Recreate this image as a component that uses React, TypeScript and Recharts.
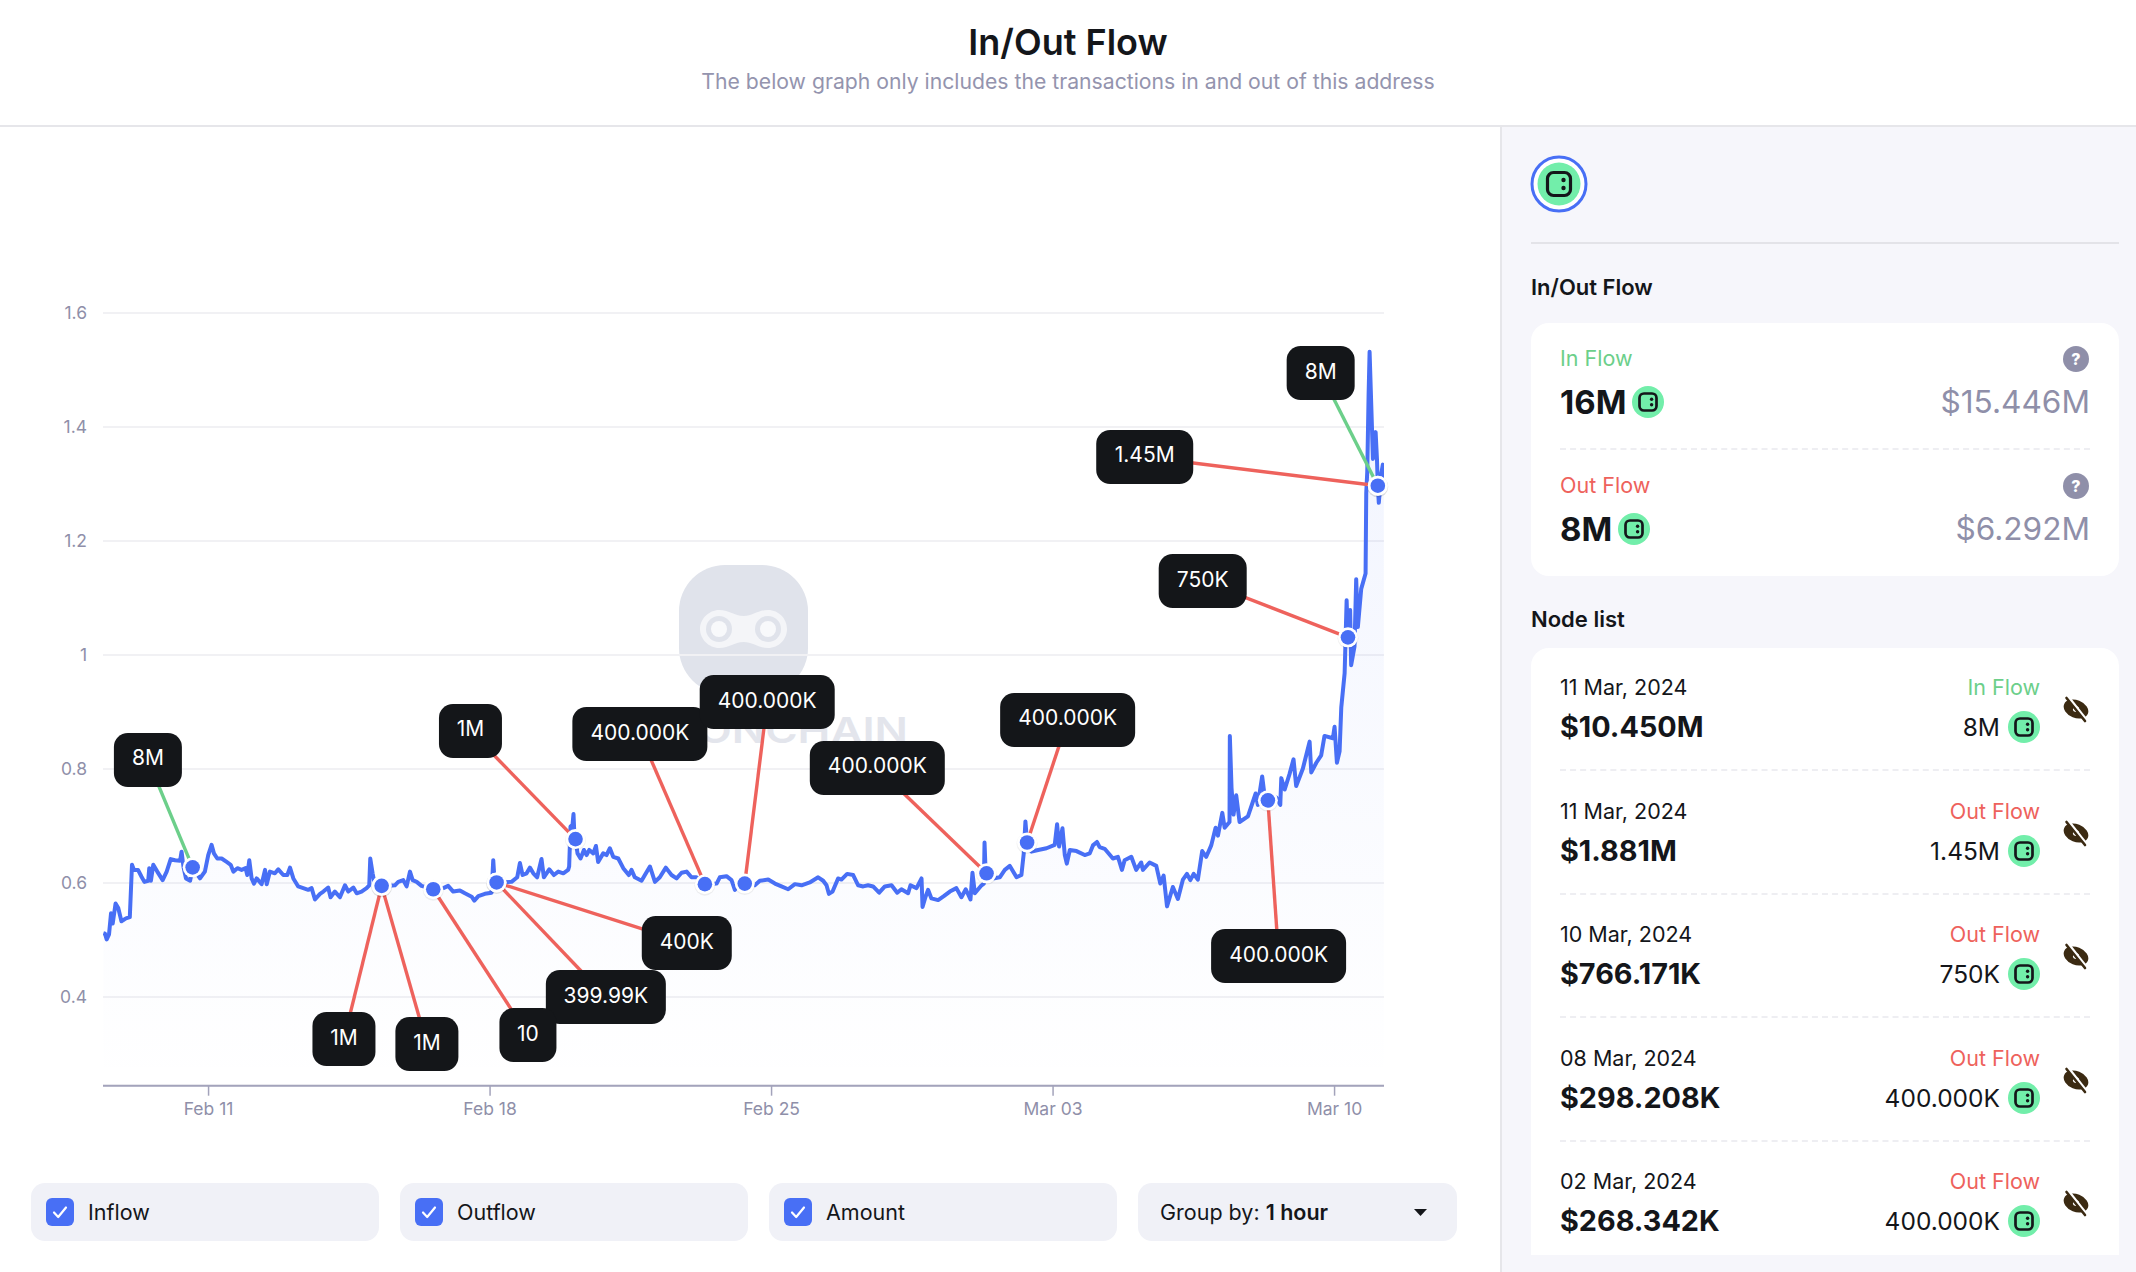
import React from "react";
import { ComposedChart, Area, XAxis, YAxis, CartesianGrid, ReferenceLine, ReferenceDot } from "recharts";

// ---------- data ----------
const hourTime = [9.2,10.2,11.2,12.6,13.8,14.8,16.5,18.1,20,22.7,25,26.3,27.5,29.9,32,33.7,36,36.6,37.6,39,41.4,44.6,47,49.4,52,55,55.9,57,58.5,61,62.5,66.9,69.8,71.8,73.8,75.2,77.2,79.8,82.8,85.2,86.8,89.2,91.7,94.1,95.1,96.3,97.7,99.1,100.7,103.7,105.7,106.7,108.6,111.6,113.6,116.6,119,120.6,122.6,125.5,128.5,131.5,133.5,135.5,138.5,140.5,143.4,144.8,147.4,150.4,153.4,155.4,158.4,160.4,163.3,166.3,167.9,168.5,169.9,171.3,175.3,180.2,183.2,185.2,188.2,190.2,192.2,193.8,196.2,199.1,206.1,
  212.1,215,218,222,225,229,230.6,233,236.9,240.9,241.9,242.9,243.9,252.8,256.2,257.8,259.4,261.8,263.8,265.8,268.1,270.7,272.1,275.3,278.1,280.7,283.7,286.6,287.2,288,289.2,289.8,290.2,291,292.2,294,296,297.6,299.2,301.6,303.2,304.5,307.5,309.5,311.5,313.5,316.5,319.5,322.8,324.4,326.4,330.4,332.4,335.4,338.4,341.3,344.9,348.3,351.3,354.3,357.3,360.2,363.2,368.2,375.2,377.1,381.1,384.1,386.1,388.1,392,398,
  401,406,410,413.9,417.9,421.9,425.9,430.8,435.8,438.8,440.8,442.2,444.4,447.7,449.7,453.1,456.7,459.7,462.7,465.6,468.6,472.2,475.6,479.6,483,485.5,489.5,490.9,494.5,497.5,498.1,499.9,501.4,503.4,507.4,510.8,514.4,518.3,521.3,523.9,526.7,527.9,529.3,533.3,534.7,535.1,535.7,537.2,540.2,544.2,547.2,550.2,554.2,557.1,558.5,559.5,560.5,563.1,567.1,572.1,577,578.4,579.6,581.6,583,584.2,586,590,594.9,597.9,
  599.8,602.2,603.8,606.8,609.7,611.7,614.7,617.1,618.7,622.7,625.6,628.6,629.6,633.6,637.6,640,642,644,647.5,650.5,653.5,655.9,657.9,659.9,662.4,665,667.4,670.4,673,674.4,677,678.4,681.3,681.5,682.5,683.7,685.3,687.3,692.3,696.9,698.2,700.8,702.2,704.2,709.2,711.6,712.2,714.2,717.1,719.5,721.1,725.1,729.1,730.1,733.1,736,738,743,744,745.4,747,748,750,751.2,751.9,752.3,753.3,753.9,755.9,756.9,757.9,759.9,762.5,762.9,763.5,764.3,764.9,765.9,766.9,768.5,769.3,769.8,770.4,771.8,772.8,773.4];

const rateValue = [.512,.511,.501,.510,.547,.529,.564,.556,.533,.538,.540,.632,.623,.623,.611,.602,.604,.626,.604,.632,.620,.605,.620,.642,.640,.639,.655,.629,.608,.604,.6275,.608,.620,.649,.667,.652,.643,.643,.637,.632,.620,.626,.623,.626,.614,.640,.608,.599,.608,.598,.623,.598,.620,.617,.624,.614,.614,.627,.608,.594,.591,.588,.591,.571,.581,.585,.592,.575,.585,.575,.596,.585,.592,.582,.585,.591,.596,.643,.617,.596,.595,.595,.596,.602,.605,.594,.620,.605,.602,.595,.589,
  .591,.595,.585,.587,.582,.576,.569,.577,.581,.583,.640,.594,.601,.602,.610,.635,.614,.617,.627,.617,.610,.642,.610,.624,.614,.620,.617,.623,.629,.699,.702,.721,.693,.677,.652,.643,.658,.649,.658,.652,.665,.637,.652,.649,.661,.646,.643,.626,.614,.623,.610,.604,.614,.629,.602,.610,.627,.614,.608,.618,.620,.610,.610,.598,.599,.610,.612,.605,.588,.596,.599,.596,
  .604,.606,.599,.594,.589,.598,.596,.601,.610,.604,.596,.581,.585,.608,.606,.616,.614,.596,.594,.596,.594,.583,.594,.596,.583,.589,.582,.596,.591,.608,.558,.576,.588,.573,.570,.577,.585,.591,.575,.589,.571,.618,.582,.596,.599,.671,.623,.617,.608,.610,.623,.630,.610,.614,.652,.708,.671,.655,.658,.661,.667,.703,.664,.696,.649,.634,.658,.656,.649,.652,
  .666,.672,.663,.660,.650,.643,.646,.623,.640,.646,.623,.636,.623,.636,.630,.599,.613,.559,.593,.572,.606,.616,.605,.616,.606,.656,.646,.666,.697,.683,.723,.697,.707,.858,.767,.720,.754,.707,.717,.757,.737,.787,.754,.745,.750,.737,.784,.764,.791,.817,.770,.801,.848,.794,.811,.824,.858,.854,.874,.811,.831,.908,.968,1.096,1.029,1.031,1.079,.982,1.015,1.133,1.049,1.116,1.143,1.284,1.321,1.455,1.532,1.438,1.344,1.391,1.344,1.297,1.267,1.317,1.334,1.310];

const xTickHours = [72, 240, 408, 576, 744];
const xTickLabels = ["Feb 11", "Feb 18", "Feb 25", "Mar 03", "Mar 10"];
const yTicks = [0.4, 0.6, 0.8, 1, 1.2, 1.4, 1.6];

const nodeHours = [62.5, 175.3, 175.3, 206.1, 243.9, 243.9, 291, 368.2, 392, 536.3, 560.5, 704.2, 752, 769.8, 769.8];
const nodeValues = [.6275, .595, .595, .589, .601, .601, .677, .598, .599, .617, .671, .745, 1.031, 1.297, 1.297];
const nodeAmounts = ["8M", "1M", "1M", "10", "399.99K", "400K", "1M", "400.000K", "400.000K", "400.000K", "400.000K", "400.000K", "750K", "1.45M", "8M"];
const nodeFlows = ["in", "out", "out", "out", "out", "out", "out", "out", "out", "out", "out", "out", "out", "out", "in"];
// where each tag sits, in the chart's own hour / value units
const tagHours = [35.8, 152.8, 202.3, 262.6, 309.1, 357.4, 228.3, 329.4, 405.4, 471.1, 584.7, 710.6, 665.3, 630.7, 735.7];
const tagValues = [.8158, .3263, .3175, .3333, .4, .4947, .8667, .8614, .9175, .8018, .886, .4719, 1.1298, 1.3474, 1.4947];

const listDates = ["11 Mar, 2024", "11 Mar, 2024", "10 Mar, 2024", "08 Mar, 2024", "02 Mar, 2024"];
const listUsd = ["$10.450M", "$1.881M", "$766.171K", "$298.208K", "$268.342K"];
const listFlows = ["In Flow", "Out Flow", "Out Flow", "Out Flow", "Out Flow"];
const listAmounts = ["8M", "1.45M", "750K", "400.000K", "400.000K"];
const legendNames = ["Inflow", "Outflow", "Amount"];

// ---------- styling ----------
const FONT = "Inter, 'Noto Sans', sans-serif";
const BLUE = "#486ff5";
const RED = "#ee625c";
const GREEN = "#6ccf8a";
const MUTED = "#8f8fa9";
const INK = "#14161a";

const chartData = hourTime.map((hour, i) => ({ hour, rate: rateValue[i] }));
const tagOrder = [0, 1, 2, 4, 3, 5, 6, 7, 8, 9, 10, 11, 12, 13, 14];

function tagWidth(text: string) {
  if (text.length >= 8) return 135;
  if (text === "399.99K") return 120;
  if (text === "1.45M") return 97;
  if (text === "400K") return 90;
  if (text === "750K") return 88;
  if (text === "8M") return 68;
  if (text === "10") return 57;
  return 63;
}

const NodeDot = (props: any) => (
  <g>
    <circle cx={props.cx} cy={props.cy + 1} r={10.5} fill="#000" opacity={0.06} />
    <circle cx={props.cx} cy={props.cy} r={10} fill="#fff" />
    <circle cx={props.cx} cy={props.cy} r={7.3} fill={BLUE} />
  </g>
);

const Tag = (text: string) => (props: any) => {
  const w = tagWidth(text);
  return (
    <g>
      <rect x={props.cx - w / 2} y={props.cy - 27} width={w} height={54} rx={14} fill="#141619" />
      <text x={props.cx} y={props.cy - 2} textAnchor="middle" dominantBaseline="central" fill="#fff" fontSize={21} fontFamily={FONT}>{text}</text>
    </g>
  );
};

const Coin = ({ x, y, d = 32 }: { x: number; y: number; d?: number }) => (
  <svg style={{ position: "absolute", left: x - d / 2, top: y - d / 2 }} width={d} height={d} viewBox="0 0 32 32">
    <circle cx={16} cy={16} r={16} fill="#72eeaa" />
    <rect x={7.5} y={7.5} width={17} height={17} rx={4.5} fill="none" stroke="#14161a" strokeWidth={2.7} />
    <circle cx={19.6} cy={13.2} r={1.7} fill="#14161a" />
    <circle cx={19.6} cy={18.8} r={1.7} fill="#14161a" />
  </svg>
);

const Text = ({ x, y, right, size, color = INK, weight = 400, children }: any) => (
  <div style={{ position: "absolute", ...(right !== undefined ? { right: 2136 - right } : { left: x }), top: y, transform: "translateY(-50%)", fontSize: size, color, fontWeight: weight, whiteSpace: "nowrap", lineHeight: 1 }}>{children}</div>
);

const Dash = ({ y }: { y: number }) => (
  <div style={{ position: "absolute", left: 1560, width: 530, top: y, borderTop: "2px dashed #eeeef2" }} />
);

const Help = ({ y }: { y: number }) => (
  <div style={{ position: "absolute", left: 2063, top: y - 13, width: 26, height: 26, borderRadius: 13, background: MUTED, color: "#fff", fontSize: 16, fontWeight: 800, textAlign: "center", lineHeight: "26px" }}>?</div>
);

const EyeOff = ({ y }: { y: number }) => (
  <svg style={{ position: "absolute", left: 2062, top: y - 14 }} width={28} height={28} viewBox="0 0 28 28">
    <g transform="rotate(22 14 14)">
      <ellipse cx={14} cy={14} rx={12.8} ry={8.8} fill="#3b2a12" />
      <circle cx={14} cy={14} r={3} fill="#fff" />
    </g>
    <line x1={6} y1={2} x2={24} y2={25} stroke="#fff" strokeWidth={3.6} />
    <line x1={4.5} y1={3} x2={23} y2={26} stroke="#3b2a12" strokeWidth={2.6} strokeLinecap="round" />
  </svg>
);

const Check = ({ x }: { x: number }) => (
  <svg style={{ position: "absolute", left: x, top: 1198 }} width={28} height={28} viewBox="0 0 28 28">
    <rect width={28} height={28} rx={6} fill={BLUE} />
    <path d="M8 14.5 L12.2 19 L20 9.5" fill="none" stroke="#fff" strokeWidth={2.2} strokeLinecap="round" strokeLinejoin="round" />
  </svg>
);

const Pill = ({ x, w }: { x: number; w: number }) => (
  <div style={{ position: "absolute", left: x, top: 1183, width: w, height: 58, borderRadius: 14, background: "#f0f1f7" }} />
);

export default function App() {
  return (
    <div style={{ position: "absolute", left: 0, top: 0, width: 2136, height: 1272, overflow: "hidden", background: "#fff", fontFamily: FONT }}>
      {/* header */}
      <div style={{ position: "absolute", left: 0, top: 0, width: 2136, height: 125, borderBottom: "2px solid #e6e6ea", boxSizing: "content-box" }} />
      <div style={{ position: "absolute", left: 0, width: 2136, top: 21, textAlign: "center", fontSize: 36, fontWeight: 600, color: INK, lineHeight: "42px" }}>In/Out Flow</div>
      <div style={{ position: "absolute", left: 0, width: 2136, top: 66, textAlign: "center", fontSize: 21.2, color: "#9494ae", lineHeight: "30px" }}>The below graph only includes the transactions in and out of this address</div>

      {/* watermark */}
      <svg style={{ position: "absolute", left: 660, top: 550 }} width={280} height={210}>
        <rect x={19} y={15} width={129} height={129} rx={46} fill="#e0e3eb" />
        <path d="M59 60 C70 60 74 66 83.5 66 C93 66 98 60 108 60 C119 60 127 69 127 79 C127 89 119 98 108 98 C98 98 93 92 83.5 92 C74 92 70 98 59 98 C49 98 40 89 40 79 C40 69 49 60 59 60 Z" fill="#f4f5f8" />
        <circle cx={59} cy={79} r={13} fill="#e0e3eb" />
        <circle cx={59} cy={79} r={8} fill="#f8f9fb" />
        <circle cx={108} cy={79} r={13} fill="#e0e3eb" />
        <circle cx={108} cy={79} r={8} fill="#f8f9fb" />
        <text x={38} y={193} fontSize={36} fontWeight={600} fontFamily={FONT} fill="#e3e5ec" textLength={210} lengthAdjust="spacingAndGlyphs">ONCHAIN</text>
      </svg>

      {/* chart */}
      <div style={{ position: "absolute", left: 0, top: 0 }}>
        <ComposedChart width={1500} height={1130} data={chartData} margin={{ top: 313, right: 116, bottom: 0, left: 0 }}>
          <defs>
            <linearGradient id="flowFill" x1="0" y1="0" x2="0" y2="1">
              <stop offset="0%" stopColor={BLUE} stopOpacity={0.13} />
              <stop offset="100%" stopColor={BLUE} stopOpacity={0} />
            </linearGradient>
          </defs>
          <CartesianGrid horizontal vertical={false} stroke="#f1f1f4" strokeWidth={2} />
          <XAxis
            dataKey="hour"
            type="number"
            domain={[9, 773.5]}
            allowDataOverflow
            ticks={xTickHours}
            tickFormatter={(h: number) => xTickLabels[xTickHours.indexOf(h)]}
            height={44.3}
            tickSize={10}
            tickMargin={7}
            axisLine={{ stroke: "#a3a3bb", strokeWidth: 2 }}
            tickLine={{ stroke: "#a3a3bb", strokeWidth: 1.5 }}
            tick={{ fill: MUTED, fontSize: 17.5, fontFamily: FONT }}
          />
          <YAxis
            type="number"
            domain={[0.2444, 1.6]}
            allowDataOverflow
            ticks={yTicks}
            width={103}
            axisLine={false}
            tickLine={false}
            tickSize={0}
            tickMargin={16}
            tick={{ fill: MUTED, fontSize: 17.5, fontFamily: FONT }}
          />
          <Area
            dataKey="rate"
            type="linear"
            stroke={BLUE}
            strokeWidth={4}
            strokeLinejoin="round"
            fill="url(#flowFill)"
            dot={false}
            activeDot={false}
            isAnimationActive={false}
          />
          {nodeHours.map((h, i) => (
            <ReferenceLine
              key={"link" + i}
              ifOverflow="visible"
              segment={[{ x: tagHours[i], y: tagValues[i] }, { x: h, y: nodeValues[i] }]}
              stroke={nodeFlows[i] === "in" ? GREEN : RED}
              strokeWidth={3.4}
            />
          ))}
          {nodeHours.map((h, i) => (
            <ReferenceDot key={"node" + i} ifOverflow="visible" x={h} y={nodeValues[i]} shape={NodeDot} />
          ))}
          {tagOrder.map((i) => (
            <ReferenceDot key={"tag" + i} ifOverflow="visible" x={tagHours[i]} y={tagValues[i]} shape={Tag(nodeAmounts[i])} />
          ))}
        </ComposedChart>
      </div>

      {/* legend row */}
      {[[30.6, 348.4], [400, 348], [769, 348], [1138.4, 318.6]].map(([x, w], i) => <Pill key={i} x={x} w={w} />)}
      {legendNames.map((name, i) => (
        <React.Fragment key={name}>
          <Check x={46 + i * 369} />
          <Text x={88 + i * 369} y={1213} size={21.5}>{name}</Text>
        </React.Fragment>
      ))}
      <Text x={1160} y={1213} size={21.5}>Group by: <span style={{ fontWeight: 600 }}>1 hour</span></Text>
      <svg style={{ position: "absolute", left: 1413, top: 1208 }} width={15} height={9}><path d="M1 1 H14 L7.5 8 Z" fill={INK} /></svg>

      {/* side panel */}
      <div style={{ position: "absolute", left: 1500, top: 127, width: 636, height: 1145, background: "#f6f6fb", borderLeft: "2px solid #e6e6ea", boxSizing: "border-box" }} />
      <svg style={{ position: "absolute", left: 1530, top: 155 }} width={58} height={58}>
        <circle cx={29} cy={29} r={27} fill="#fff" stroke={BLUE} strokeWidth={3} />
        <circle cx={29} cy={29} r={21.5} fill="#72eeaa" />
        <rect x={17.5} y={17.5} width={23} height={23} rx={6} fill="none" stroke="#14161a" strokeWidth={3.2} />
        <circle cx={33.5} cy={25} r={2.2} fill="#14161a" />
        <circle cx={33.5} cy={33} r={2.2} fill="#14161a" />
      </svg>
      <div style={{ position: "absolute", left: 1531, width: 588, top: 242, height: 2, background: "#e3e3e8" }} />

      <Text x={1531} y={287} size={22} weight={600}>In/Out Flow</Text>
      <div style={{ position: "absolute", left: 1531, top: 323, width: 588, height: 253, borderRadius: 18, background: "#fff" }} />
      <Text x={1560} y={359} size={21.5} color={GREEN}>In Flow</Text>
      <Help y={359} />
      <Text x={1560} y={402} size={33} weight={700}>16M</Text>
      <Coin x={1648} y={402} />
      <Text right={2090} y={402} size={31.6} color={MUTED}>$15.446M</Text>
      <Dash y={448} />
      <Text x={1560} y={486} size={21.5} color={RED}>Out Flow</Text>
      <Help y={486} />
      <Text x={1560} y={529} size={33} weight={700}>8M</Text>
      <Coin x={1634} y={529} />
      <Text right={2090} y={529} size={31.6} color={MUTED}>$6.292M</Text>

      <Text x={1531} y={619} size={22} weight={600}>Node list</Text>
      <div style={{ position: "absolute", left: 1531, top: 648, width: 588, height: 607, borderRadius: "18px 18px 0 0", background: "#fff" }} />
      {listDates.map((date, i) => {
        const top = 688 + i * 123.6;
        return (
          <React.Fragment key={i}>
            <Text x={1560} y={top} size={21.5}>{date}</Text>
            <Text x={1560} y={top + 39} size={28.8} weight={700}>{listUsd[i]}</Text>
            <Text right={2040} y={top} size={21.5} color={listFlows[i] === "In Flow" ? GREEN : RED}>{listFlows[i]}</Text>
            <Text right={2000} y={top + 39} size={24.5}>{listAmounts[i]}</Text>
            <Coin x={2024} y={top + 39} />
            <EyeOff y={top + 21} />
            {i < 4 && <Dash y={top + 81} />}
          </React.Fragment>
        );
      })}
    </div>
  );
}
